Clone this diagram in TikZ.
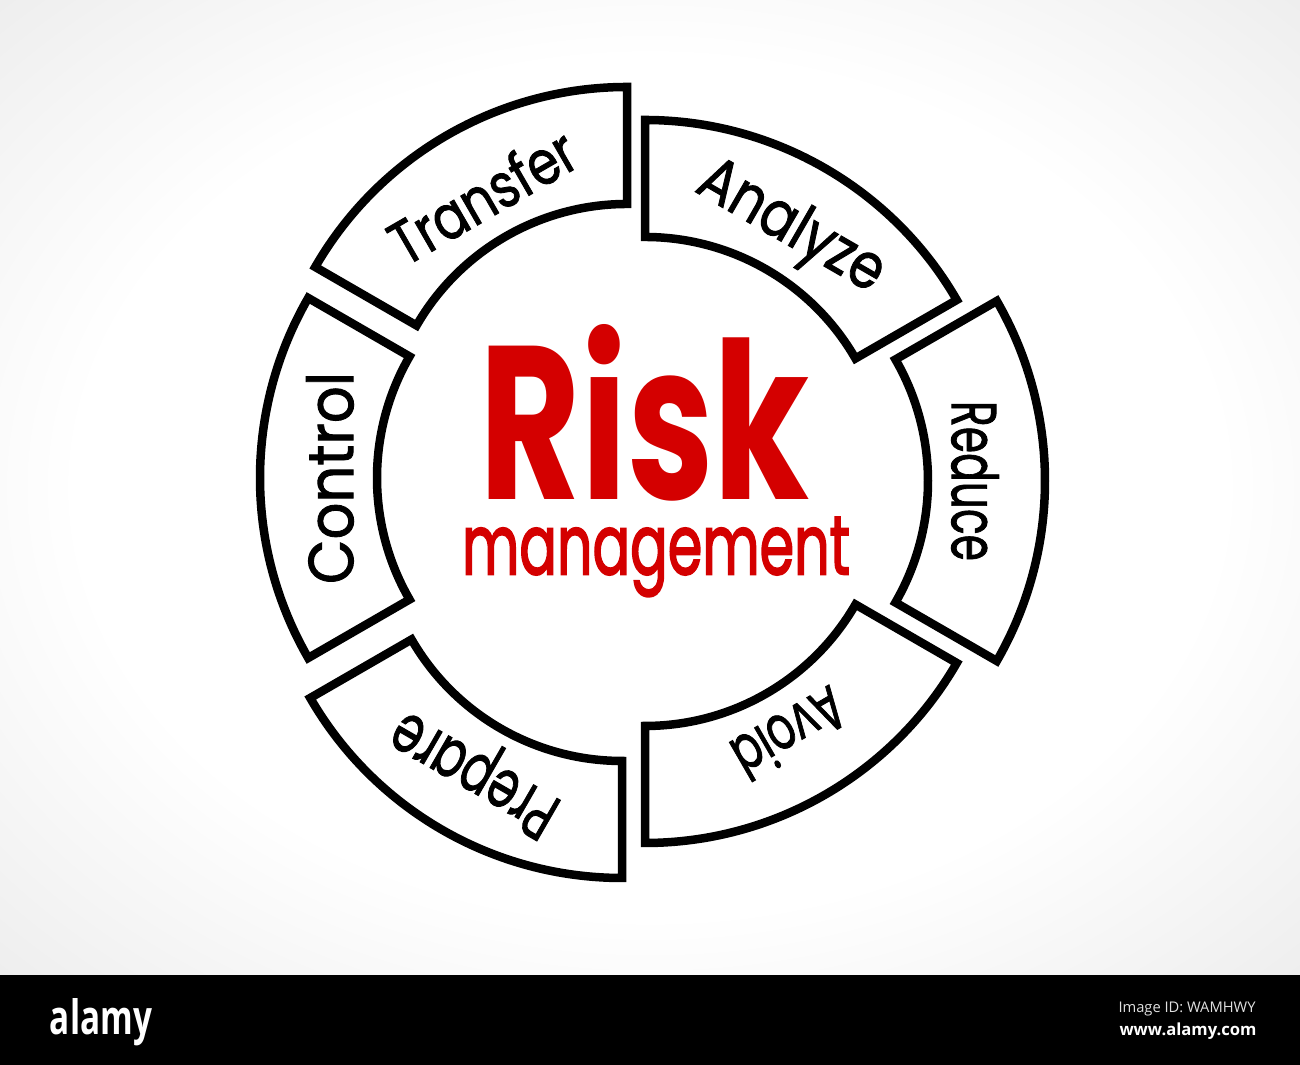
\documentclass[tikz,border=0pt]{standalone}
\usepackage{fontspec}
\usetikzlibrary{calc}
\newfontfamily\handfont{Poppins}
\newfontfamily\labfont[FakeBold=1.5]{Poppins}
\newfontfamily\mgmtfont[FakeBold=2.5]{Poppins}
\newfontfamily\bandfont{Open Sans}
\pgfdeclareradialshading{bgsh}{\pgfpoint{0bp}{0bp}}{color(0bp)=(white); color(22bp)=(white); color(50bp)=(black!14); color(71bp)=(black!22)}
\definecolor{riskred}{RGB}{212,0,0}
\tikzset{
  seg/.style={draw=black, line width=0.85mm, line join=miter},
  lab/.style={text=black, inner sep=0pt},
  redtxt/.style={text=riskred, inner sep=0pt},
  bandtxt/.style={text=white, inner sep=0pt, anchor=base}
}
\begin{document}
\begin{tikzpicture}[x=0.1mm,y=0.1mm]
\useasboundingbox (0,0) rectangle (1300,1065);
\shade[shading=bgsh] (0,90) rectangle (1300,1065);
\fill[black] (0,0) rectangle (1300,90);

\def\Ro{360}
\def\Ri{243}
\def\Rt{290}
\foreach \n/\cx/\cy/\a/\t/\w in {reduce/685/584/0/Reduce/16, analyze/645/585/60/Analyze/20.5, transfer/627/618/120/Transfer/20.5, control/620/587/180/Control/21.2, prepare/622/547/240/Prepare/18.3, avoid/645/582/300/Avoid/12}{
  \pgfmathsetmacro{\aa}{\a-30}
  \pgfmathsetmacro{\ab}{\a+30}
  \pgfmathsetmacro{\rot}{\a-90}
  \coordinate (c\n) at (\cx,\cy);
  \draw[seg] ($(c\n)+(\aa:\Ro)$) arc[start angle=\aa, end angle=\ab, radius=\Ro]
     -- ($(c\n)+(\ab:\Ri)$) arc[start angle=\ab, end angle=\aa, radius=\Ri] -- cycle;
  \node[lab, rotate=\rot] (l\n) at ($(c\n)+(\a:\Rt)$) {\resizebox{\w mm}{4.7mm}{\labfont\t}};
}

\node[redtxt] (risk) at (645,652) {\resizebox{33mm}{17.5mm}{\handfont\bfseries Risk}};
\node[redtxt] (mgmt) at (656,508) {\resizebox{38.8mm}{5.7mm}{\mgmtfont management}};

\node[bandtxt] (alamy) at (101,30) {\resizebox{10.2mm}{3.6mm}{\bandfont\bfseries alamy}};
\node[bandtxt, text=white!88!black] (imgid) at (1187,52) {\resizebox{13.7mm}{!}{\bandfont Image ID: WAMHWY}};
\node[bandtxt] (www) at (1188,29) {\resizebox{13.7mm}{!}{\bandfont\bfseries www.alamy.com}};
\end{tikzpicture}
\end{document}
